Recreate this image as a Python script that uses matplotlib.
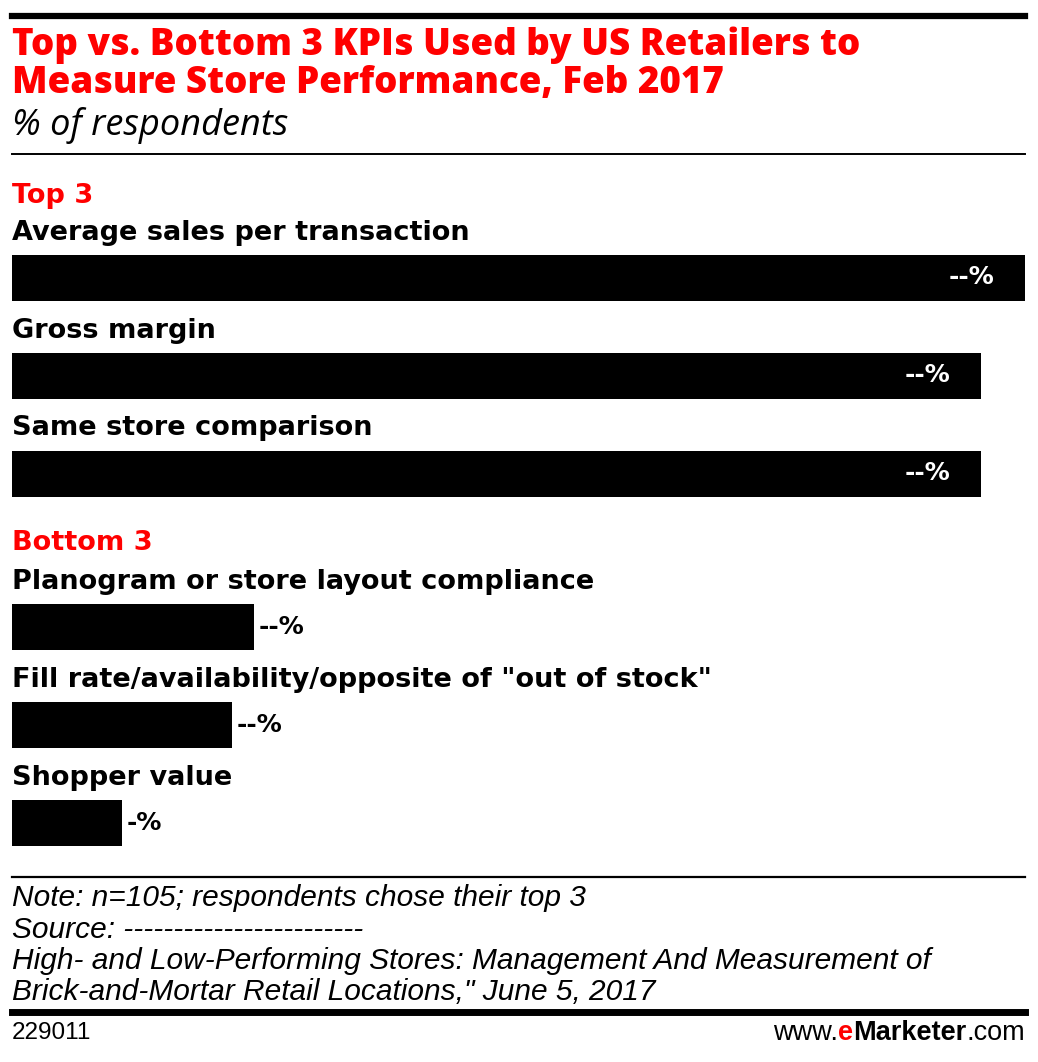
import matplotlib
matplotlib.use("Agg")
import matplotlib.pyplot as plt

# data
top_labels = ["Average sales per transaction", "Gross margin", "Same store comparison"]
top_values = [46, 44, 44]
bottom_labels = ["Planogram or store layout compliance",
                 "Fill rate/availability/opposite of \"out of stock\"",
                 "Shopper value"]
bottom_values = [11, 10, 5]
top_value_text = ["--%", "--%", "--%"]
bottom_value_text = ["--%", "--%", "-%"]

title = "Top vs. Bottom 3 KPIs Used by US Retailers to\nMeasure Store Performance, Feb 2017"
subtitle = "% of respondents"
notes = ["Note: n=105; respondents chose their top 3",
         "Source: ------------------------",
         "High- and Low-Performing Stores: Management And Measurement of",
         "Brick-and-Mortar Retail Locations,\" June 5, 2017"]
chart_id = "229011"

W, H = 1038, 1062
RED = "#ff0000"
FONT = ["Open Sans", "DejaVu Sans"]
BOLD = ["DejaVu Sans"]
NARROW = ["Liberation Sans Narrow", "Liberation Sans", "DejaVu Sans"]

fig = plt.figure(figsize=(W / 100, H / 100), dpi=100)


def fx(x):
    return x / W


def fy(y):
    return 1 - y / H


def hline(y, lw):
    fig.add_artist(plt.Line2D([fx(12), fx(1025)], [fy(y), fy(y)], color="black", lw=lw))


# header
hline(15.5, 4.5)
fig.text(fx(12), fy(45), title.split("\n")[0], fontsize=26.5, fontweight="heavy", color=RED,
         family=FONT, va="center", ha="left")
fig.text(fx(12), fy(83), title.split("\n")[1], fontsize=26.5, fontweight="heavy", color=RED,
         family=FONT, va="center", ha="left")
fig.text(fx(12), fy(125), subtitle, fontsize=26, style="italic", color="black",
         family=FONT, va="center", ha="left")
hline(154, 1.4)

# bars axis: x in data units, y in pixel rows
ax = fig.add_axes([fx(12), 0, fx(1025) - fx(12), 1])
ax.set_xlim(0, max(top_values))
ax.set_ylim(H, 0)
ax.axis("off")

bar_h = 46
fig.text(fx(12), fy(196), "Top 3", fontsize=19.5, fontweight="bold", color=RED, family=BOLD, va="center")
y0 = 277.5
for i, (lab, v, t) in enumerate(zip(top_labels, top_values, top_value_text)):
    yc = y0 + i * 98
    ax.barh(yc, v, height=bar_h, color="black")
    fig.text(fx(12), fy(yc - 45), lab, fontsize=19.5, fontweight="bold", family=BOLD, va="center")
    ax.annotate(t, (v, yc), xytext=(-22, 0), textcoords="offset points", ha="right", va="center",
                color="white", fontsize=18, fontweight="bold", family=BOLD)

fig.text(fx(12), fy(543), "Bottom 3", fontsize=19.5, fontweight="bold", color=RED, family=BOLD, va="center")
y1 = 627
for i, (lab, v, t) in enumerate(zip(bottom_labels, bottom_values, bottom_value_text)):
    yc = y1 + i * 98
    ax.barh(yc, v, height=bar_h, color="black")
    fig.text(fx(12), fy(yc - 45), lab, fontsize=19.5, fontweight="bold", family=BOLD, va="center")
    ax.annotate(t, (v, yc), xytext=(3, 0), textcoords="offset points", ha="left", va="center",
                color="black", fontsize=18, fontweight="bold", family=BOLD)

# footer
hline(877, 1.6)
for i, line in enumerate(notes):
    fig.text(fx(12), fy(898 + i * 31.5), line, fontsize=21.5, style="italic", family=NARROW, va="center")
hline(1012, 5)
fig.text(fx(12), fy(1033), chart_id, fontsize=17.5, family=NARROW, va="center")

# www.eMarketer.com, laid out right to left
renderer = fig.canvas.get_renderer()
parts = [("www.", "normal", "black"), ("e", "bold", RED), ("Marketer", "bold", "black"), (".com", "normal", "black")]
x = 1025
for s, w, c in reversed(parts):
    t = fig.text(fx(x), fy(1033), s, fontsize=19.5, fontweight=w, color=c, family=NARROW,
                 va="center", ha="right")
    bb = t.get_window_extent(renderer)
    x -= bb.width

fig.savefig("out.png", dpi=100)
